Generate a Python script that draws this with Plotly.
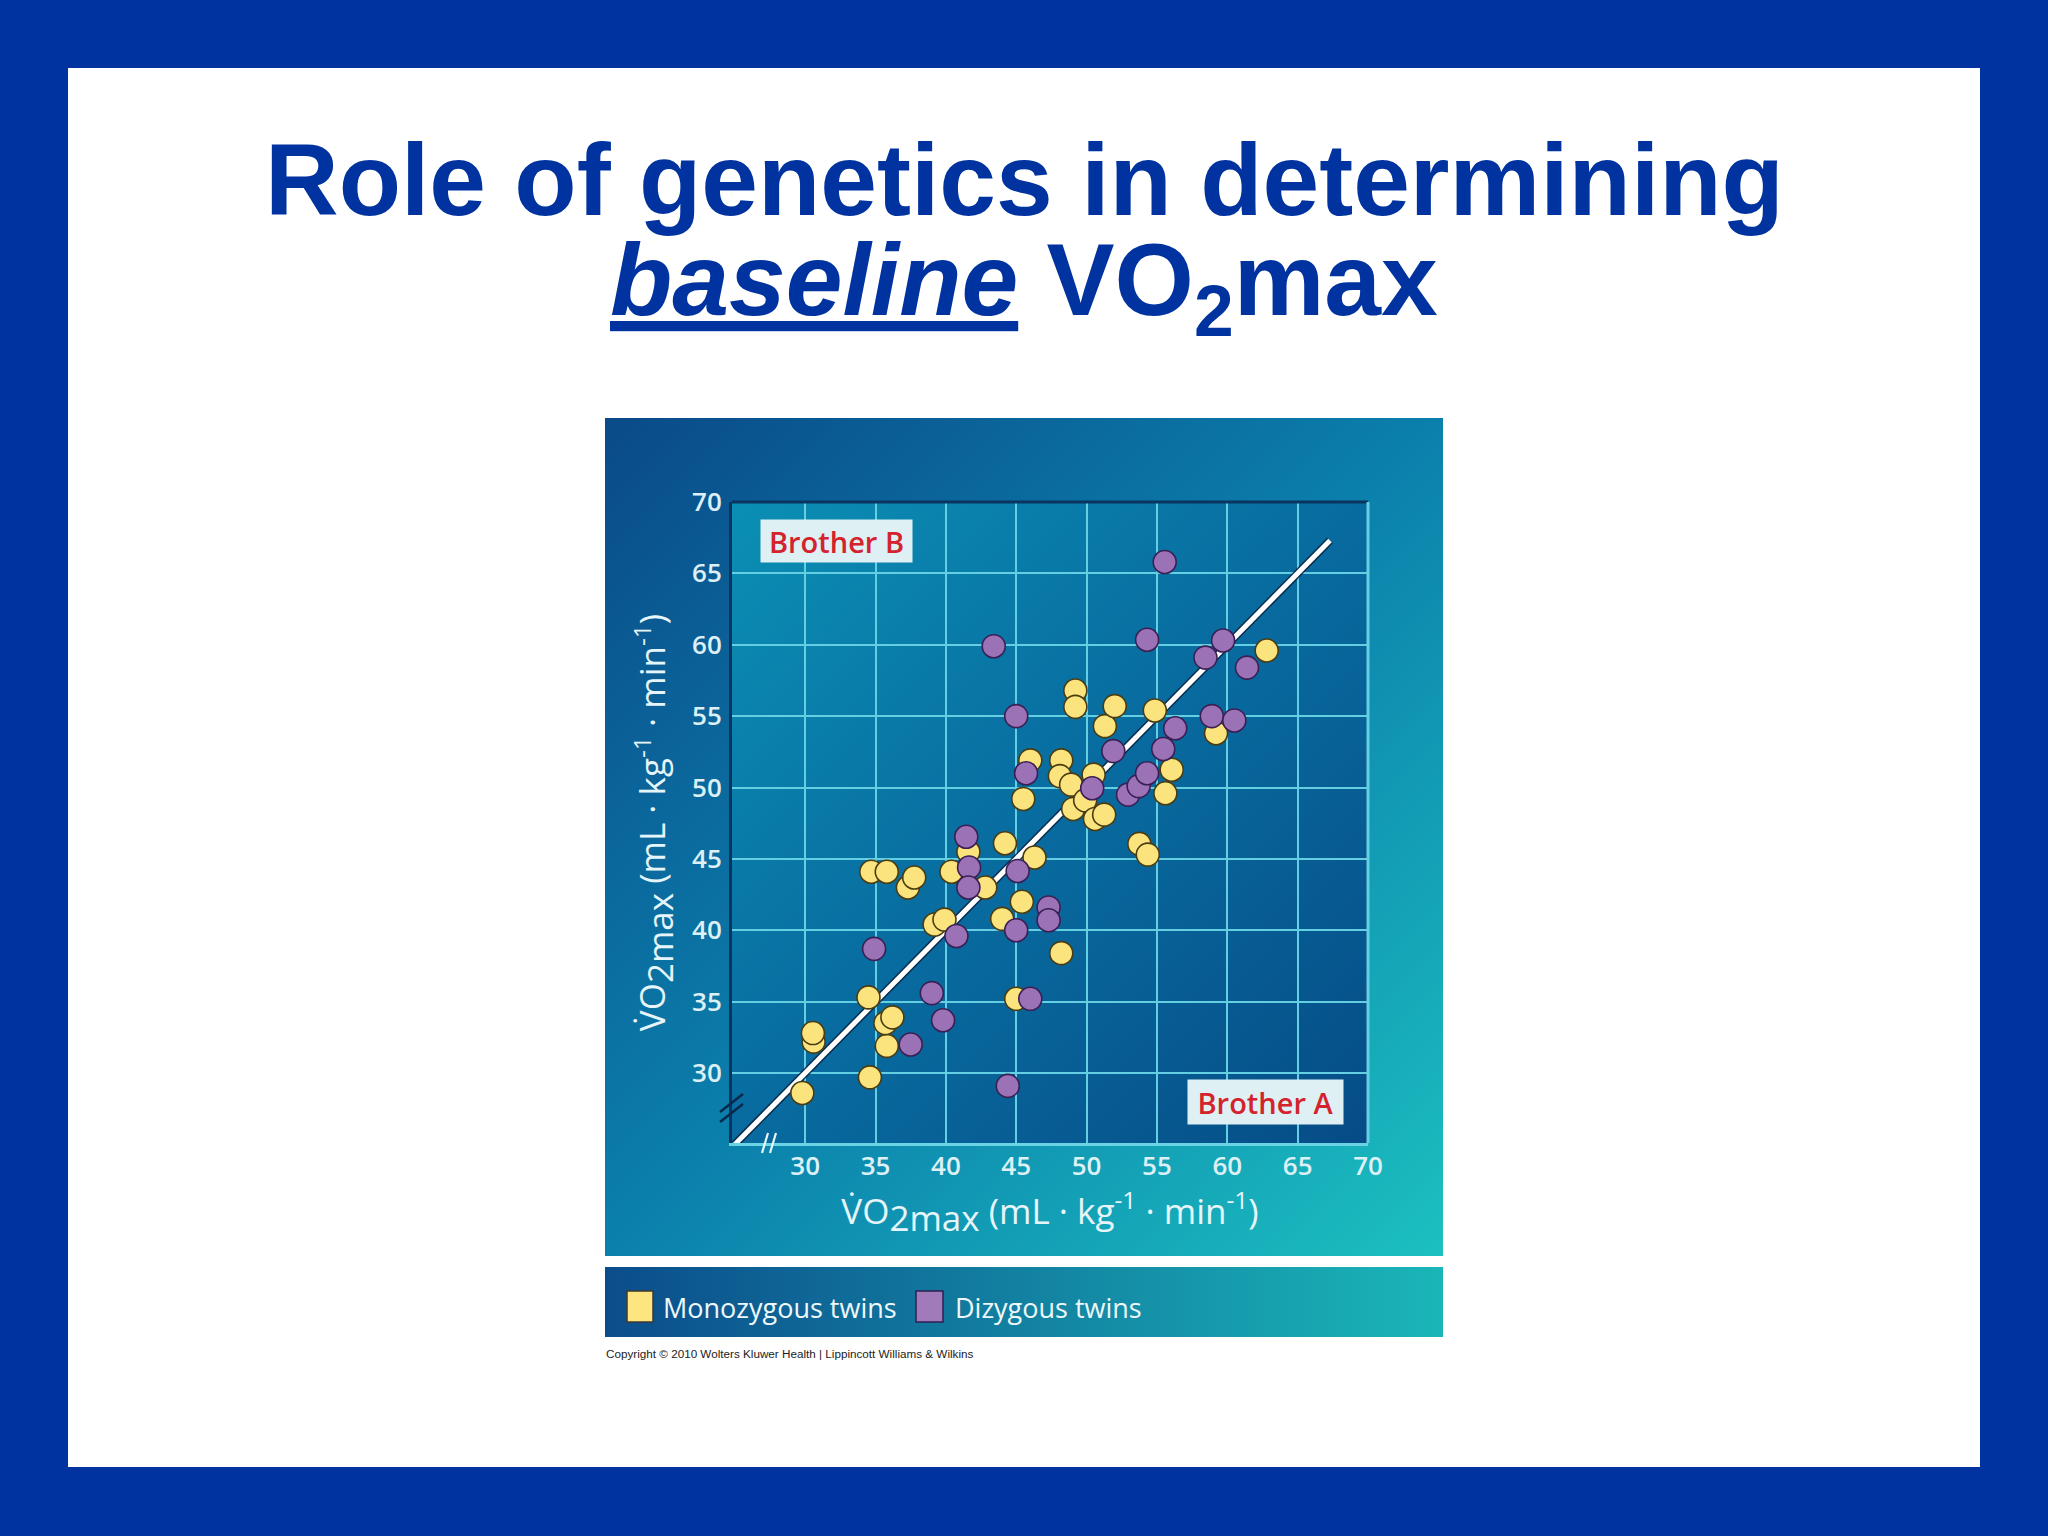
import base64
import plotly.graph_objects as go

# ---------------- data ----------------
mono_x = [29.8, 30.6, 30.55, 34.6, 34.5, 35.8, 35.7, 36.2, 34.7, 35.8, 37.3, 37.75,
          39.2, 39.9, 40.4, 41.6, 42.8, 44.2, 44.0, 45.4, 45.0, 46.3, 45.5, 46.0,
          48.2, 48.2, 48.1, 48.9, 49.05, 49.9, 49.2, 49.2, 50.5, 50.6, 51.25, 51.3,
          52.0, 53.75, 54.35, 54.85, 55.6, 56.05, 59.2, 62.8]
mono_y = [28.6, 32.2, 32.8, 29.7, 35.3, 31.9, 33.5, 33.9, 44.1, 44.1, 43.0, 43.7,
          40.4, 40.75, 44.1, 45.5, 43.0, 46.1, 40.8, 42.0, 35.2, 45.1, 49.2, 51.9,
          38.4, 51.9, 50.8, 50.2, 48.5, 49.1, 56.8, 55.65, 50.9, 47.8, 48.1, 54.3,
          55.7, 46.05, 45.3, 55.4, 49.6, 51.25, 53.8, 59.6]

di_x = [34.9, 37.5, 39.0, 39.8, 40.75, 41.45, 41.65, 41.6, 43.4, 44.4, 45.0, 45.1,
        45.0, 46.0, 45.7, 47.3, 47.3, 50.4, 51.9, 52.95, 53.7, 54.3, 54.3, 55.55,
        55.45, 56.3, 58.45, 59.7, 58.9, 60.5, 61.4]
di_y = [38.7, 32.0, 35.6, 33.7, 39.6, 46.55, 44.4, 43.0, 59.9, 29.1, 55.0, 44.15,
        40.0, 35.2, 51.0, 41.6, 40.7, 49.95, 52.55, 49.5, 50.1, 51.0, 60.35, 65.8,
        52.7, 54.15, 59.1, 60.3, 55.0, 54.7, 58.4]

identity_line = [25.0, 67.3]          # line of identity (Brother A = Brother B)
tick_vals = [30, 35, 40, 45, 50, 55, 60, 65, 70]
tick_text = ["30", "35", "40", "45", "50", "55", "60", "65", "70"]
series_names = ["Monozygous twins", "Dizygous twins"]
axis_title = ("V\u0307O<sub><span style='font-size:35px'>2max</span></sub> "
              "(mL · kg<sup>-1</sup> · min<sup>-1</sup>)")

# ---------------- layout geometry (pixels) ----------------
W_FIG, H_FIG = 2048, 1536
L, R, T, B = 732, 1368, 502, 1143
PW, PH = R - L, B - T


def px(x):
    return (x - L) / PW


def py(y):
    return (B - y) / PH


def grad_uri(stops, x2=1, y2=1):
    s = "".join(f'<stop offset="{o}" stop-color="{c}"/>' for o, c in stops)
    svg = ('<svg xmlns="http://www.w3.org/2000/svg" viewBox="0 0 100 100" width="100" height="100" '
           'preserveAspectRatio="none"><defs><linearGradient id="g" x1="0" y1="0" '
           f'x2="{x2}" y2="{y2}">{s}</linearGradient></defs>'
           '<rect width="100" height="100" fill="url(#g)"/></svg>')
    return "data:image/svg+xml;base64," + base64.b64encode(svg.encode()).decode()


def img(uri, x0, y0, x1, y1):
    return dict(source=uri, xref="paper", yref="paper", x=px(x0), y=py(y0),
                sizex=(x1 - x0) / PW, sizey=(y1 - y0) / PH, sizing="stretch",
                xanchor="left", yanchor="top", layer="below")


fig = go.Figure()

# identity line (dark edge + white core)
fig.add_trace(go.Scatter(x=identity_line, y=identity_line, mode="lines",
                         line=dict(color="rgba(8,30,60,0.85)", width=8),
                         hoverinfo="skip", showlegend=False))
fig.add_trace(go.Scatter(x=identity_line, y=identity_line, mode="lines",
                         line=dict(color="#ffffff", width=5),
                         hoverinfo="skip", showlegend=False))

fig.add_trace(go.Scatter(x=mono_x, y=mono_y, mode="markers", name=series_names[0],
                         marker=dict(size=23, color="#fbe47e",
                                     line=dict(color="#4a3c12", width=1.6)),
                         showlegend=False))
fig.add_trace(go.Scatter(x=di_x, y=di_y, mode="markers", name=series_names[1],
                         marker=dict(size=23, color="#9a72b5",
                                     line=dict(color="#3a1f55", width=1.6)),
                         showlegend=False))

BLUE = "#0033a0"
shapes = [
    # blue slide frame
    dict(type="rect", xref="paper", yref="paper", x0=px(0), x1=px(W_FIG), y0=py(0), y1=py(68),
         fillcolor=BLUE, line_width=0, layer="below"),
    dict(type="rect", xref="paper", yref="paper", x0=px(0), x1=px(W_FIG), y0=py(1467), y1=py(H_FIG),
         fillcolor=BLUE, line_width=0, layer="below"),
    dict(type="rect", xref="paper", yref="paper", x0=px(0), x1=px(68), y0=py(0), y1=py(H_FIG),
         fillcolor=BLUE, line_width=0, layer="below"),
    dict(type="rect", xref="paper", yref="paper", x0=px(1980), x1=px(W_FIG), y0=py(0), y1=py(H_FIG),
         fillcolor=BLUE, line_width=0, layer="below"),
    # plot borders: dark top, light right
    dict(type="line", xref="paper", yref="paper", x0=0, x1=1, y0=1, y1=1,
         line=dict(color="#0a3560", width=3), layer="above"),
    dict(type="line", xref="paper", yref="paper", x0=1, x1=1, y0=0, y1=1,
         line=dict(color="#66d0e2", width=3), layer="above"),
    # axis break marks
    dict(type="line", xref="paper", yref="paper", x0=px(720), y0=py(1112), x1=px(743), y1=py(1094),
         line=dict(color="#0a2a4c", width=2.5), layer="above"),
    dict(type="line", xref="paper", yref="paper", x0=px(720), y0=py(1122), x1=px(743), y1=py(1104),
         line=dict(color="#0a2a4c", width=2.5), layer="above"),
    dict(type="line", xref="paper", yref="paper", x0=px(762), y0=py(1153), x1=px(768), y1=py(1133),
         line=dict(color="#e8f6fa", width=2.2), layer="above"),
    dict(type="line", xref="paper", yref="paper", x0=px(770), y0=py(1153), x1=px(776), y1=py(1133),
         line=dict(color="#e8f6fa", width=2.2), layer="above"),
    # legend swatches
    dict(type="rect", xref="paper", yref="paper", x0=px(627), x1=px(653), y0=py(1322), y1=py(1291),
         fillcolor="#fde57f", line=dict(color="#3d3a30", width=1.5), layer="above"),
    dict(type="rect", xref="paper", yref="paper", x0=px(916), x1=px(943), y0=py(1322), y1=py(1291),
         fillcolor="#a07ab9", line=dict(color="#2d2050", width=1.5), layer="above"),
]

images = [
    img(grad_uri([(0, "#0a4a89"), (0.5, "#0b80ac"), (1, "#1cc0c0")]), 605, 418, 1443, 1256),
    img(grad_uri([(0, "#0b4d8b"), (1, "#1ab6b8")], x2=1, y2=0), 605, 1267, 1443, 1337),
    img(grad_uri([(0, "#0b8fb4"), (0.5, "#086b9f"), (1, "#064c86")]), L, T, R, B),
]

TITLE_FONT = dict(family="Liberation Sans, Arial, sans-serif", size=102, color=BLUE, weight=700)
LABEL_FONT = "Open Sans, Lato, sans-serif"

annotations = [
    dict(text="Role of genetics in determining", xref="paper", yref="paper",
         x=px(1024), y=py(121), xanchor="center", yanchor="top", showarrow=False, font=TITLE_FONT),
    dict(text="<i><u>baseline</u></i> VO<sub>2</sub>max", xref="paper", yref="paper",
         x=px(1024), y=py(221), xanchor="center", yanchor="top", showarrow=False, font=TITLE_FONT),
    dict(text="Brother B", xref="paper", yref="paper", x=px(836.5), y=py(541),
         xanchor="center", yanchor="middle", showarrow=False, bgcolor="#def0f4",
         width=151, height=42, borderpad=0,
         font=dict(family=LABEL_FONT, size=29, color="#d4232c", weight=600)),
    dict(text="Brother A", xref="paper", yref="paper", x=px(1265), y=py(1102),
         xanchor="center", yanchor="middle", showarrow=False, bgcolor="#def0f4",
         width=155, height=44, borderpad=0,
         font=dict(family=LABEL_FONT, size=29, color="#d4232c", weight=600)),
    dict(text=series_names[0], xref="paper", yref="paper", x=px(661), y=py(1307),
         xanchor="left", yanchor="middle", showarrow=False,
         font=dict(family=LABEL_FONT, size=27, color="#eef8fb")),
    dict(text=series_names[1], xref="paper", yref="paper", x=px(953), y=py(1307),
         xanchor="left", yanchor="middle", showarrow=False,
         font=dict(family=LABEL_FONT, size=27, color="#eef8fb")),
    dict(text="Copyright © 2010 Wolters Kluwer Health | Lippincott Williams &amp; Wilkins",
         xref="paper", yref="paper", x=px(604), y=py(1353), xanchor="left", yanchor="middle",
         showarrow=False,
         font=dict(family="Liberation Sans Narrow, Arial Narrow, Liberation Sans, sans-serif",
                   size=11.7, color="#222222")),
]

TICK_FONT = dict(family=LABEL_FONT, size=26, color="#dcf0f6", weight=600)
AX_TITLE_FONT = dict(family=LABEL_FONT, size=35, color="#e6f5f9", weight=500)

fig.update_layout(
    width=W_FIG, height=H_FIG, autosize=False,
    margin=dict(l=L, r=W_FIG - R, t=T, b=H_FIG - B, pad=0),
    paper_bgcolor="#ffffff", plot_bgcolor="rgba(0,0,0,0)",
    showlegend=False,
    shapes=shapes, images=images, annotations=annotations,
    xaxis=dict(range=[24.8, 70], tickvals=tick_vals, ticktext=tick_text,
               showgrid=True, gridcolor="#64cfe3", gridwidth=2, zeroline=False,
               showline=True, linecolor="#6ad3e4", linewidth=3, ticks="",
               ticklabelstandoff=-2, tickfont=TICK_FONT,
               title=dict(text=axis_title, font=AX_TITLE_FONT, standoff=6)),
    yaxis=dict(range=[25.1, 70], tickvals=tick_vals, ticktext=tick_text,
               showgrid=True, gridcolor="#64cfe3", gridwidth=2, zeroline=False,
               showline=True, linecolor="#0a3560", linewidth=3, ticks="",
               ticklabelstandoff=2, tickfont=TICK_FONT,
               title=dict(text=axis_title, font=AX_TITLE_FONT, standoff=16)),
)

fig.write_html("out.html")
